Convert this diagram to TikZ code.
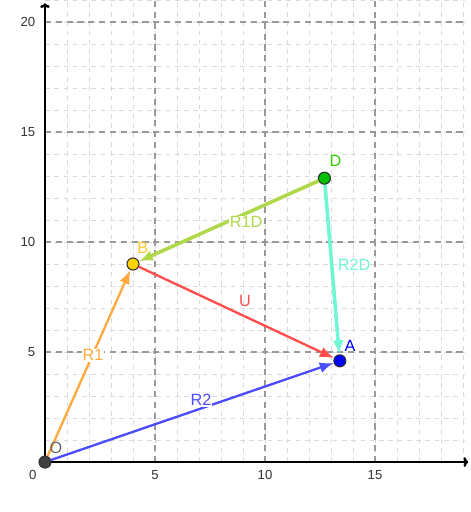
\documentclass[tikz,border=0pt]{standalone}
\usepackage{fontspec}
\setmainfont{Liberation Sans}
\usetikzlibrary{arrows.meta}
\definecolor{gridmin}{HTML}{DADADA}
\definecolor{gridmaj}{HTML}{999999}
\definecolor{colR1}{HTML}{FFAA40}
\definecolor{colR2}{HTML}{4B4BFF}
\definecolor{colU}{HTML}{FF4D4D}
\definecolor{colR1D}{HTML}{AFD84A}
\definecolor{colR2D}{HTML}{70F5D5}
\definecolor{colB}{HTML}{FFD200}
\definecolor{colBtxt}{HTML}{FFC830}
\definecolor{colD}{HTML}{00C000}
\definecolor{colDtxt}{HTML}{33CC00}
\begin{document}
\begin{tikzpicture}[x=0.5cm,y=0.5cm,>={Latex[length=9pt,width=7pt]},
  pt/.style={circle,draw=black!80,line width=0.7pt,inner sep=0pt,minimum size=7.8pt},
  lbl/.style={font=\fontsize{10.5}{12}\selectfont,fill=white,inner sep=0.6pt},
  tick/.style={font=\fontsize{8.5}{10}\selectfont,text=black!80}]
\useasboundingbox (-2.045,-2.27) rectangle (19.32,21.0);
% grid
\foreach \x in {1,...,19}
    \draw[gridmin,dashed,line width=0.5pt](\x,0)--(\x,21);
\foreach \y in {1,...,21}
    \draw[gridmin,dashed,line width=0.5pt](0,\y)--(19.1,\y);
\foreach \x in {5,10,15}
    \draw[gridmaj,dash pattern=on 4pt off 3pt,line width=0.7pt](\x,0)--(\x,21);
\foreach \y in {5,10,15,20}
    \draw[gridmaj,dash pattern=on 4pt off 3pt,line width=0.7pt](0,\y)--(19.1,\y);
% axes
\draw[line width=1.6pt,-{To[length=3pt]}](0,0)--(19.23,0);
\draw[line width=1.6pt,-{To[length=3pt]}](0,0)--(0,20.85);
\node[tick] at (-0.55,-0.6){0};
\foreach \x in {5,10,15}
    \node[tick] at (\x,-0.6){\x};
\foreach \y in {5,10,15,20}
    \node[tick,anchor=east] at (-0.2,\y){\y};
% points
\node (O) at (0,0)[pt,fill=black!75]{};
\node (B) at (4,9)[pt,fill=colB]{};
\node (D) at (12.7,12.9)[pt,fill=colD]{};
\node (A) at (13.4,4.6)[pt,fill=blue]{};
% vectors
\draw[colR1,line width=1.5pt,->](O)--(B);
\draw[colR2,line width=1.5pt,->](O)--(A);
\draw[colU,line width=1.5pt,->](B)--(A);
\draw[colR1D,line width=2.3pt,->](D)--(B);
\draw[colR2D,line width=2.3pt,->](D)--(A);
% labels
\node[lbl,text=colR1] (lR1) at (2.18,4.86){R1};
\node[lbl,text=colR2] (lR2) at (7.09,2.82){R2};
\node[lbl,text=colU,fill=none] (lU) at (9.09,7.3){U};
\node[lbl,text=colR1D] (lR1D) at (9.14,10.9){R1D};
\node[lbl,text=colR2D,fill=none] (lR2D) at (14.05,8.95){R2D};
\node[lbl,text=black!60,fill=none] (lO) at (0.5,0.65){O};
\node[lbl,text=colBtxt,fill=none] (lB) at (4.45,9.75){B};
\node[lbl,text=colDtxt,fill=none] (lD) at (13.2,13.7){D};
\node[lbl,text=blue,fill=none] (lA) at (13.86,5.3){A};
\end{tikzpicture}
\end{document}
